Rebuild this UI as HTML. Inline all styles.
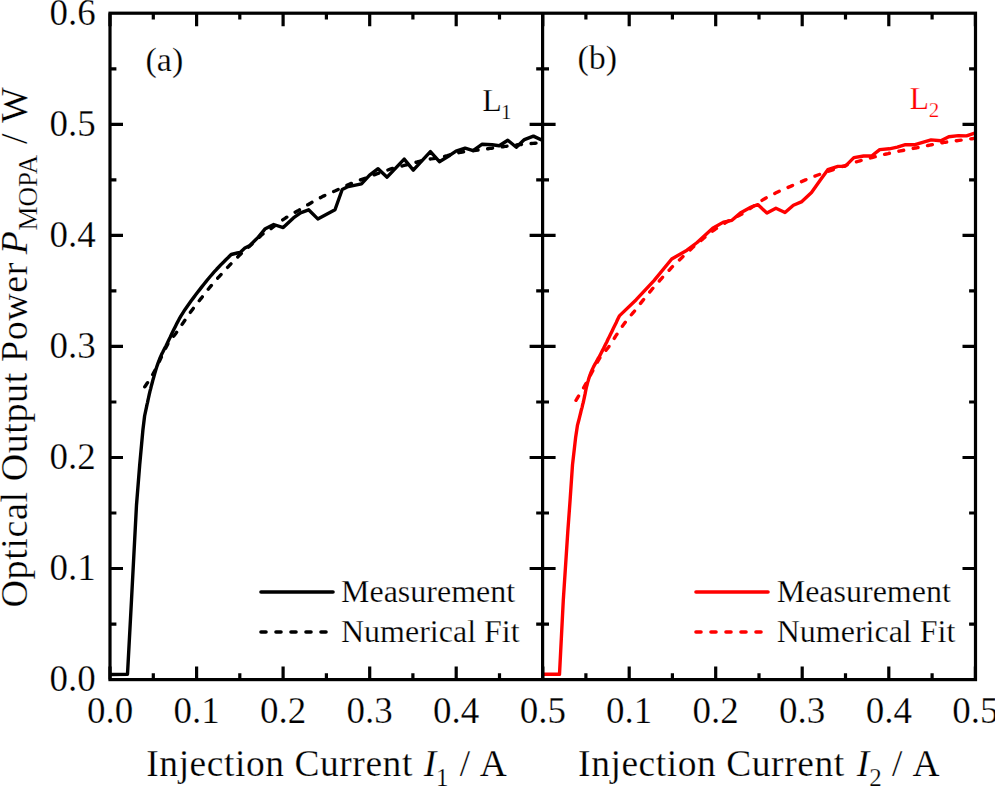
<!DOCTYPE html>
<html><head><meta charset="utf-8"><style>
html,body{margin:0;padding:0;background:#fff;width:995px;height:787px;overflow:hidden}
svg{display:block}
text{font-family:"Liberation Serif",serif;fill:#000;stroke:#fff;stroke-width:0.25px}
.t{font-size:37px}
.lg{font-size:32px}
</style></head><body>
<svg width="995" height="787" viewBox="0 0 995 787">
<rect width="995" height="787" fill="#fff"/>
<defs><clipPath id="cl"><rect x="110" y="13" width="432.6" height="667"/></clipPath>
<clipPath id="cr"><rect x="542.6" y="13" width="433" height="667"/></clipPath></defs>
<g fill="none" stroke-linejoin="round" stroke-linecap="round" stroke-width="3.4">
<path clip-path="url(#cl)" stroke="#000" d="M110.0 674.5 L127.5 674.2 L131.5 600.0 L136.5 505.0 L139.7 464.9 L142.9 430.0 L144.6 416.0 L146.7 406.2 L147.0 404.6 L147.5 402.6 L148.0 400.2 L148.6 397.5 L149.2 394.6 L149.9 391.6 L150.7 388.6 L151.4 385.7 L152.2 382.8 L153.0 379.7 L153.9 376.6 L154.8 373.4 L155.7 370.2 L156.7 367.1 L157.7 364.1 L158.7 361.3 L159.7 358.8 L160.7 356.5 L161.6 354.4 L162.7 352.3 L163.7 350.2 L164.8 348.1 L166.1 345.7 L167.4 343.0 L168.8 340.0 L170.4 336.8 L172.0 333.3 L173.7 329.8 L175.5 326.2 L177.3 322.6 L179.1 319.2 L181.0 315.9 L182.9 312.8 L184.9 309.7 L187.0 306.7 L189.1 303.7 L191.2 300.8 L193.4 297.9 L195.5 295.1 L197.6 292.3 L199.7 289.6 L201.8 286.9 L203.9 284.2 L206.0 281.6 L208.1 279.0 L210.2 276.5 L212.3 274.1 L214.4 271.7 L216.6 269.3 L219.0 266.8 L221.4 264.2 L223.9 261.8 L226.1 259.5 L228.2 257.5 L229.9 255.8 L231.2 254.5 L237.3 253.0 L240.1 252.4 L244.9 248.0 L249.9 245.5 L258.3 237.1 L265.3 228.7 L273.7 224.5 L283.2 227.6 L293.4 217.9 L300.5 212.8 L308.6 209.8 L317.8 218.9 L335.0 209.8 L342.2 189.5 L347.2 186.9 L361.5 183.9 L369.6 175.2 L378.1 168.7 L387.1 177.2 L404.2 159.1 L413.3 170.2 L430.4 151.6 L439.4 161.7 L450.0 155.2 L456.0 151.2 L465.1 148.2 L473.1 150.7 L482.2 144.2 L492.2 144.7 L499.2 145.7 L507.8 140.2 L516.3 147.2 L524.4 139.6 L533.4 136.1 L542.6 140.5"/>
<path clip-path="url(#cl)" stroke="#000" stroke-dasharray="4.9 9.7" d="M144.8 386.8 L145.5 385.8 L146.3 384.5 L147.3 383.1 L148.5 381.3 L149.8 379.4 L151.1 377.3 L152.5 374.9 L153.9 372.4 L155.4 369.4 L157.1 366.0 L159.0 362.1 L160.8 358.2 L162.7 354.2 L164.5 350.5 L166.1 347.2 L167.6 344.4 L168.9 342.2 L170.0 340.6 L171.0 339.2 L171.9 338.1 L172.8 337.1 L173.7 336.1 L174.6 335.0 L175.6 333.7 L176.7 332.2 L177.8 330.6 L178.9 329.0 L180.0 327.4 L181.1 325.8 L182.2 324.2 L183.3 322.6 L184.4 321.0 L185.5 319.5 L186.5 318.0 L187.5 316.5 L188.6 315.0 L189.6 313.5 L190.6 312.1 L191.7 310.6 L192.7 309.2 L193.7 307.8 L194.8 306.4 L195.8 305.1 L196.9 303.8 L197.9 302.4 L199.0 301.1 L200.0 299.8 L201.1 298.4 L202.2 297.0 L203.2 295.6 L204.3 294.3 L205.4 292.9 L206.5 291.5 L207.6 290.1 L208.7 288.7 L209.8 287.3 L211.0 285.9 L212.1 284.6 L213.3 283.2 L214.5 281.8 L215.7 280.5 L216.9 279.1 L218.1 277.7 L219.4 276.3 L220.7 274.9 L222.0 273.4 L223.3 272.0 L224.7 270.5 L226.0 269.0 L227.3 267.6 L228.7 266.2 L230.0 264.8 L231.3 263.5 L232.6 262.1 L233.8 260.9 L235.1 259.6 L236.3 258.3 L237.6 257.1 L238.9 255.8 L240.3 254.5 L241.7 253.2 L243.2 251.9 L244.6 250.5 L246.1 249.2 L247.6 247.9 L249.1 246.6 L250.6 245.3 L252.0 244.0 L253.4 242.7 L254.8 241.4 L256.1 240.1 L257.5 238.8 L258.8 237.6 L260.1 236.4 L261.3 235.3 L262.5 234.3 L263.6 233.4 L264.6 232.7 L265.6 232.1 L266.5 231.5 L267.5 230.9 L268.5 230.3 L269.6 229.6 L270.9 228.7 L272.3 227.7 L273.9 226.5 L275.6 225.2 L277.3 223.9 L279.0 222.6 L280.8 221.3 L282.5 220.0 L284.2 218.9 L285.8 217.8 L287.4 216.8 L289.0 215.9 L290.6 215.0 L292.2 214.1 L293.7 213.1 L295.3 212.2 L296.9 211.3 L298.5 210.4 L300.0 209.4 L301.6 208.5 L303.2 207.5 L304.8 206.6 L306.3 205.6 L308.0 204.7 L309.6 203.7 L311.3 202.7 L313.0 201.8 L314.7 200.8 L316.4 199.8 L318.2 198.8 L319.9 197.9 L321.7 197.0 L323.4 196.1 L325.1 195.3 L326.8 194.5 L328.6 193.7 L330.3 193.0 L332.0 192.2 L333.7 191.5 L335.4 190.8 L337.1 190.0 L338.8 189.2 L340.4 188.5 L342.1 187.7 L343.7 186.9 L345.4 186.1 L347.0 185.4 L348.7 184.6 L350.3 183.9 L351.9 183.2 L353.3 182.7 L354.7 182.1 L356.1 181.6 L357.6 181.0 L359.3 180.4 L361.2 179.6 L363.5 178.8 L366.3 177.8 L369.5 176.6 L373.0 175.3 L376.7 173.9 L380.5 172.6 L384.0 171.3 L387.3 170.2 L390.2 169.2 L392.6 168.4 L394.7 167.8 L396.5 167.3 L398.2 166.9 L399.8 166.5 L401.4 166.1 L403.2 165.7 L405.2 165.2 L407.4 164.6 L409.7 164.0 L412.2 163.3 L414.6 162.6 L417.1 162.0 L419.6 161.3 L422.0 160.7 L424.3 160.2 L426.5 159.7 L428.8 159.3 L430.9 158.9 L433.1 158.6 L435.2 158.2 L437.3 157.9 L439.4 157.5 L441.4 157.1 L443.4 156.6 L445.4 156.1 L447.4 155.6 L449.3 155.0 L451.2 154.5 L453.0 154.0 L454.8 153.5 L456.5 153.1 L458.1 152.8 L459.5 152.5 L460.9 152.2 L462.2 152.0 L463.6 151.8 L465.0 151.6 L466.5 151.4 L468.1 151.2 L469.9 151.0 L471.8 150.7 L473.9 150.5 L475.9 150.2 L478.0 150.0 L480.1 149.7 L482.2 149.5 L484.2 149.2 L486.1 148.9 L488.0 148.7 L489.9 148.4 L491.8 148.2 L493.6 147.9 L495.5 147.7 L497.3 147.4 L499.2 147.2 L501.1 146.9 L503.0 146.7 L504.9 146.4 L506.7 146.2 L508.6 145.9 L510.5 145.7 L512.4 145.4 L514.3 145.2 L516.2 145.0 L518.1 144.8 L520.0 144.6 L522.0 144.4 L523.9 144.2 L525.8 144.0 L527.6 143.9 L529.4 143.7 L531.2 143.5 L533.1 143.4 L535.1 143.2 L536.9 143.0 L538.7 142.8 L540.3 142.7 L541.6 142.6 L542.6 142.5"/>
<path clip-path="url(#cr)" stroke="#f00" d="M542.6 674.3 L559.5 674.3 L563.3 600.0 L567.8 531.7 L570.1 500.0 L572.5 464.9 L575.7 436.9 L577.4 425.7 L577.7 424.4 L578.2 422.5 L578.8 420.3 L579.4 417.9 L580.0 415.4 L580.6 413.0 L581.1 410.8 L581.6 409.0 L582.0 407.6 L582.3 406.4 L582.5 405.4 L582.7 404.5 L582.9 403.7 L583.2 402.7 L583.5 401.5 L583.8 400.0 L584.2 398.2 L584.6 396.2 L585.1 393.9 L585.5 391.6 L586.0 389.2 L586.5 386.9 L587.1 384.7 L587.6 382.6 L588.2 380.7 L588.7 378.9 L589.3 377.1 L589.9 375.4 L590.5 373.7 L591.2 372.0 L591.9 370.3 L592.7 368.6 L593.5 366.9 L594.4 365.2 L595.3 363.6 L596.3 361.9 L597.2 360.2 L598.2 358.4 L599.3 356.6 L600.3 354.7 L601.3 352.7 L602.4 350.6 L603.5 348.5 L604.6 346.2 L605.7 344.0 L606.9 341.7 L608.0 339.3 L609.2 336.9 L610.5 334.3 L611.9 331.4 L613.4 328.3 L614.9 325.3 L616.3 322.4 L617.5 319.7 L618.6 317.5 L619.4 315.9 L636.2 299.7 L654.0 280.6 L671.7 259.0 L687.0 250.2 L697.1 242.5 L712.7 228.3 L723.4 222.1 L731.9 220.3 L740.3 213.1 L751.2 207.0 L757.8 204.6 L766.9 213.1 L775.9 208.3 L785.0 212.5 L793.4 205.2 L801.9 201.6 L811.5 192.6 L820.0 180.5 L827.8 169.7 L837.9 166.4 L845.1 166.4 L853.9 157.6 L863.6 156.0 L871.6 156.0 L879.7 149.6 L889.3 148.8 L897.3 147.2 L905.4 144.7 L915.0 144.7 L931.1 139.9 L940.8 140.7 L948.8 136.7 L958.4 135.6 L966.5 135.9 L975.5 132.8"/>
<path clip-path="url(#cr)" stroke="#f00" stroke-dasharray="4.9 9.7" d="M576.0 400.3 L576.7 399.2 L577.5 397.8 L578.5 396.2 L579.7 394.4 L580.9 392.3 L582.3 390.1 L583.7 387.7 L585.1 385.2 L586.6 382.4 L588.4 379.1 L590.2 375.6 L592.1 372.0 L594.0 368.3 L595.8 364.9 L597.5 361.8 L599.1 359.1 L600.5 356.9 L601.8 355.1 L603.0 353.6 L604.2 352.2 L605.3 351.0 L606.4 349.7 L607.5 348.4 L608.6 347.0 L609.7 345.4 L610.7 343.9 L611.8 342.3 L612.8 340.7 L613.8 339.1 L614.8 337.5 L615.8 335.9 L616.9 334.3 L618.0 332.7 L619.1 331.1 L620.2 329.5 L621.3 327.8 L622.4 326.2 L623.6 324.6 L624.7 323.1 L625.8 321.6 L626.9 320.2 L628.0 318.8 L629.1 317.5 L630.2 316.2 L631.3 314.8 L632.4 313.5 L633.6 312.2 L634.7 310.8 L635.9 309.4 L637.0 307.9 L638.2 306.4 L639.4 304.9 L640.5 303.4 L641.7 301.9 L642.9 300.4 L644.1 298.9 L645.3 297.4 L646.5 296.0 L647.6 294.6 L648.8 293.1 L650.0 291.7 L651.2 290.3 L652.4 288.8 L653.6 287.4 L654.8 286.0 L656.1 284.5 L657.4 283.1 L658.7 281.7 L660.0 280.2 L661.2 278.8 L662.5 277.4 L663.8 276.0 L665.1 274.6 L666.3 273.2 L667.6 271.9 L668.8 270.5 L670.1 269.2 L671.3 267.8 L672.6 266.5 L673.9 265.2 L675.2 263.9 L676.6 262.6 L677.9 261.3 L679.3 260.0 L680.7 258.7 L682.0 257.5 L683.4 256.2 L684.7 255.0 L686.0 253.8 L687.3 252.6 L688.5 251.4 L689.8 250.2 L691.1 249.0 L692.3 247.8 L693.6 246.7 L694.9 245.5 L696.2 244.4 L697.6 243.2 L698.9 242.1 L700.3 241.0 L701.6 239.9 L703.0 238.8 L704.3 237.7 L705.7 236.6 L707.0 235.5 L708.3 234.5 L709.6 233.5 L710.9 232.4 L712.2 231.4 L713.6 230.4 L715.0 229.3 L716.5 228.3 L718.1 227.2 L719.8 226.1 L721.6 225.0 L723.5 223.9 L725.3 222.8 L727.2 221.7 L729.0 220.7 L730.7 219.7 L732.3 218.8 L733.8 218.1 L735.2 217.4 L736.6 216.7 L738.1 216.0 L739.6 215.2 L741.4 214.3 L743.3 213.1 L745.5 211.7 L748.0 210.0 L750.7 208.1 L753.5 206.2 L756.3 204.2 L759.0 202.4 L761.6 200.7 L763.9 199.2 L765.9 198.0 L767.8 196.9 L769.6 196.0 L771.2 195.1 L772.8 194.3 L774.4 193.6 L776.0 192.8 L777.7 192.0 L779.4 191.2 L781.2 190.4 L782.9 189.6 L784.6 188.9 L786.4 188.1 L788.1 187.4 L789.9 186.7 L791.6 185.9 L793.3 185.1 L795.1 184.4 L796.8 183.6 L798.6 182.9 L800.3 182.1 L802.0 181.4 L803.8 180.6 L805.5 179.9 L807.1 179.2 L808.5 178.7 L809.7 178.1 L811.1 177.6 L812.5 177.0 L814.3 176.3 L816.5 175.5 L819.3 174.5 L822.8 173.3 L827.1 171.8 L831.9 170.1 L836.9 168.4 L841.9 166.7 L846.8 165.0 L851.1 163.6 L854.7 162.4 L857.6 161.5 L860.0 160.8 L861.9 160.2 L863.7 159.7 L865.2 159.3 L866.7 159.0 L868.3 158.6 L870.0 158.1 L871.9 157.6 L873.7 157.1 L875.5 156.6 L877.3 156.2 L879.1 155.7 L880.9 155.3 L882.7 154.8 L884.5 154.4 L886.3 154.0 L888.1 153.6 L889.9 153.1 L891.8 152.7 L893.6 152.3 L895.4 152.0 L897.2 151.6 L899.0 151.2 L900.8 150.8 L902.6 150.5 L904.4 150.1 L906.2 149.8 L908.0 149.4 L909.8 149.1 L911.6 148.8 L913.4 148.4 L915.2 148.0 L917.0 147.7 L918.8 147.3 L920.6 147.0 L922.5 146.6 L924.3 146.2 L926.1 145.9 L927.9 145.5 L929.7 145.1 L931.5 144.8 L933.3 144.4 L935.2 144.0 L937.0 143.7 L938.8 143.3 L940.6 143.0 L942.4 142.7 L944.2 142.4 L945.9 142.2 L947.6 141.9 L949.3 141.7 L951.1 141.5 L952.9 141.2 L954.8 141.0 L956.8 140.7 L959.1 140.4 L961.6 140.1 L964.3 139.7 L967.0 139.3 L969.7 139.0 L972.0 138.7 L974.0 138.4 L975.5 138.2"/>
</g>
<g fill="none" stroke="#000" stroke-width="3.2">
<path d="M110.0 679.6 V666.6 M110.0 13.2 V26.2 M153.3 679.6 V673.2 M153.3 13.2 V19.6 M196.6 679.6 V666.6 M196.6 13.2 V26.2 M239.8 679.6 V673.2 M239.8 13.2 V19.6 M283.1 679.6 V666.6 M283.1 13.2 V26.2 M326.4 679.6 V673.2 M326.4 13.2 V19.6 M369.7 679.6 V666.6 M369.7 13.2 V26.2 M412.9 679.6 V673.2 M412.9 13.2 V19.6 M456.2 679.6 V666.6 M456.2 13.2 V26.2 M499.5 679.6 V673.2 M499.5 13.2 V19.6 M542.8 679.6 V666.6 M542.8 13.2 V26.2 M542.6 679.6 V666.6 M542.6 13.2 V26.2 M585.9 679.6 V673.2 M585.9 13.2 V19.6 M629.2 679.6 V666.6 M629.2 13.2 V26.2 M672.4 679.6 V673.2 M672.4 13.2 V19.6 M715.7 679.6 V666.6 M715.7 13.2 V26.2 M759.0 679.6 V673.2 M759.0 13.2 V19.6 M802.2 679.6 V666.6 M802.2 13.2 V26.2 M845.5 679.6 V673.2 M845.5 13.2 V19.6 M888.8 679.6 V666.6 M888.8 13.2 V26.2 M932.1 679.6 V673.2 M932.1 13.2 V19.6 M975.4 679.6 V666.6 M975.4 13.2 V26.2 M110.0 624.1 H116.4 M536.2 624.1 H549.0 M975.5 624.1 H969.1 M110.0 568.5 H123.0 M529.6 568.5 H555.6 M975.5 568.5 H962.5 M110.0 513.0 H116.4 M536.2 513.0 H549.0 M975.5 513.0 H969.1 M110.0 457.5 H123.0 M529.6 457.5 H555.6 M975.5 457.5 H962.5 M110.0 402.0 H116.4 M536.2 402.0 H549.0 M975.5 402.0 H969.1 M110.0 346.4 H123.0 M529.6 346.4 H555.6 M975.5 346.4 H962.5 M110.0 290.9 H116.4 M536.2 290.9 H549.0 M975.5 290.9 H969.1 M110.0 235.4 H123.0 M529.6 235.4 H555.6 M975.5 235.4 H962.5 M110.0 179.9 H116.4 M536.2 179.9 H549.0 M975.5 179.9 H969.1 M110.0 124.4 H123.0 M529.6 124.4 H555.6 M975.5 124.4 H962.5 M110.0 68.8 H116.4 M536.2 68.8 H549.0 M975.5 68.8 H969.1"/>
<rect x="110.0" y="13.2" width="865.5" height="666.4"/>
<path d="M542.6 13.2 V679.6"/>
</g>
<text x="49.5" y="691.2" class="t">0.0</text><text x="49.5" y="580.1" class="t">0.1</text><text x="49.5" y="469.1" class="t">0.2</text><text x="49.5" y="358.1" class="t">0.3</text><text x="49.5" y="247.0" class="t">0.4</text><text x="49.5" y="136.0" class="t">0.5</text><text x="49.5" y="24.9" class="t">0.6</text>
<text x="110.0" y="722.6" text-anchor="middle" class="t">0.0</text><text x="196.6" y="722.6" text-anchor="middle" class="t">0.1</text><text x="283.1" y="722.6" text-anchor="middle" class="t">0.2</text><text x="369.7" y="722.6" text-anchor="middle" class="t">0.3</text><text x="456.2" y="722.6" text-anchor="middle" class="t">0.4</text><text x="542.8" y="722.6" text-anchor="middle" class="t">0.5</text><text x="629.2" y="722.6" text-anchor="middle" class="t">0.1</text><text x="715.7" y="722.6" text-anchor="middle" class="t">0.2</text><text x="802.2" y="722.6" text-anchor="middle" class="t">0.3</text><text x="888.8" y="722.6" text-anchor="middle" class="t">0.4</text><text x="975.4" y="722.6" text-anchor="middle" class="t">0.5</text>
<text x="145.5" y="70.6" style="font-size:34px">(a)</text>
<text x="577.5" y="69" style="font-size:34px">(b)</text>
<text x="482.3" y="110.5" style="font-size:32px">L</text><text x="501.1" y="119" style="font-size:21px">1</text>
<g style="fill:#f00"><text x="909.5" y="108.5" style="font-size:32px;fill:#f00">L</text><text x="928.8" y="117.4" style="font-size:21px;fill:#f00">2</text></g>
<g stroke-width="3.6" stroke-linecap="round" fill="none">
<path d="M261 592 H333" stroke="#000"/>
<path d="M261 632 H327" stroke="#000" stroke-dasharray="5 10"/>
<path d="M696 592 H768" stroke="#f00"/>
<path d="M696 632 H762" stroke="#f00" stroke-dasharray="5 10"/>
</g>
<text x="341" y="602.4" class="lg">Measurement</text>
<text x="341" y="642.3" class="lg">Numerical Fit</text>
<text x="776.7" y="602.4" class="lg">Measurement</text>
<text x="776.7" y="642.3" class="lg">Numerical Fit</text>
<g style="font-size:37.5px">
<text x="146.3" y="776" style="letter-spacing:0.55px">Injection Current</text>
<text x="423.7" y="776" font-style="italic">I</text>
<text x="436.1" y="785.7" style="font-size:25px">1</text>
<text x="459.7" y="776">/</text>
<text x="479.7" y="776">A</text>
<text x="578.1" y="776" style="letter-spacing:0.55px">Injection Current</text>
<text x="856.7" y="776" font-style="italic">I</text>
<text x="869.2" y="785.7" style="font-size:25px">2</text>
<text x="892.1" y="776">/</text>
<text x="912.5" y="776">A</text>
</g>
<g transform="translate(27 0) rotate(-90)" style="font-size:38px">
<text x="-607.5" y="0" style="letter-spacing:0.6px">Optical Output Power</text>
<text x="-254.2" y="0" font-style="italic">P</text>
<text x="-230.4" y="9.8" style="font-size:27px">MOPA</text>
<text x="-144" y="0">/</text>
<text x="-123" y="0">W</text>
</g>
</svg>
</body></html>
